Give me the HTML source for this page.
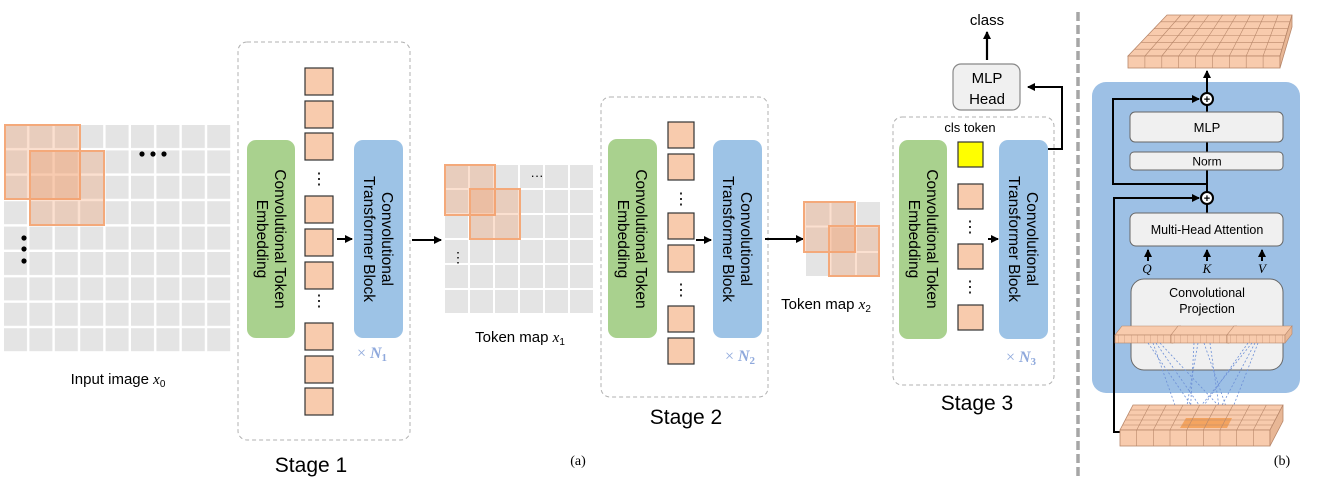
<!DOCTYPE html>
<html><head><meta charset="utf-8"><style>
html,body{margin:0;padding:0;background:#fff;}
svg{display:block;font-family:"Liberation Sans",sans-serif;}
</style></head><body>
<svg width="1324" height="493" viewBox="0 0 1324 493" xmlns="http://www.w3.org/2000/svg">
<defs>
<pattern id="g0" x="4" y="125" width="25.4" height="25.4" patternUnits="userSpaceOnUse"><rect width="23" height="23" fill="#e4e4e4"/></pattern>
<pattern id="g1" x="445" y="165" width="25" height="25" patternUnits="userSpaceOnUse"><rect width="23" height="23" fill="#e4e4e4"/></pattern>
<pattern id="g2" x="806" y="202" width="25.5" height="25.5" patternUnits="userSpaceOnUse"><rect width="23.5" height="23.5" fill="#e4e4e4"/></pattern>
<marker id="ah" markerWidth="8" markerHeight="8" refX="7" refY="4" orient="auto" markerUnits="userSpaceOnUse"><path d="M0,0 L8,4 L0,8 z" fill="#000"/></marker>
<pattern id="vs" x="0" y="0" width="6.5" height="20" patternUnits="userSpaceOnUse"><rect width="6.5" height="20" fill="#f8cbad"/><line x1="0" y1="0" x2="0" y2="20" stroke="#b8876a" stroke-width="0.6"/></pattern>
</defs>

<!-- Input image -->
<rect x="4" y="125" width="227" height="227" fill="url(#g0)"/>
<rect x="5" y="125" width="75" height="74" fill="rgba(244,160,110,0.32)" stroke="#f4a97a" stroke-width="2"/>
<rect x="30" y="151" width="74" height="74" fill="rgba(244,160,110,0.32)" stroke="#f4a97a" stroke-width="2"/>
<circle cx="142" cy="154" r="2.6"/><circle cx="153" cy="154" r="2.6"/><circle cx="164" cy="154" r="2.6"/>
<circle cx="24" cy="238" r="2.6"/><circle cx="24" cy="249" r="2.6"/><circle cx="24" cy="261" r="2.6"/>
<text x="118" y="384" font-size="15" text-anchor="middle">Input image <tspan font-family="Liberation Serif" font-style="italic">x</tspan><tspan font-size="10" dy="3">0</tspan></text>

<!-- Stage 1 -->
<rect x="238" y="42" width="172" height="398" rx="9" fill="none" stroke="#b0b0b0" stroke-dasharray="4,3"/>
<rect x="247" y="140" width="48" height="198" rx="9" fill="#a9d18e"/>
<text transform="translate(271,239) rotate(90)" font-size="15.5" text-anchor="middle"><tspan x="0" y="-4">Convolutional Token</tspan><tspan x="0" y="14">Embedding</tspan></text>
<g fill="#f8cbad" stroke="#333" stroke-width="1.2">
<rect x="305" y="68" width="28" height="27"/><rect x="305" y="101" width="28" height="27"/><rect x="305" y="133" width="28" height="27"/>
<rect x="305" y="196" width="28" height="27"/><rect x="305" y="229" width="28" height="27"/><rect x="305" y="262" width="28" height="27"/>
<rect x="305" y="323" width="28" height="27"/><rect x="305" y="356" width="28" height="27"/><rect x="305" y="388" width="28" height="27"/>
</g>
<text x="319" y="184" font-size="16" text-anchor="middle">⋮</text>
<text x="319" y="306" font-size="16" text-anchor="middle">⋮</text>
<line x1="337" y1="239" x2="352" y2="239" stroke="#000" stroke-width="2" marker-end="url(#ah)"/>
<rect x="354" y="140" width="49" height="198" rx="9" fill="#9dc3e6"/>
<text transform="translate(378,239) rotate(90)" font-size="15.5" text-anchor="middle"><tspan x="0" y="-4">Convolutional</tspan><tspan x="0" y="14">Transformer Block</tspan></text>
<text x="372" y="358" font-size="16" fill="#8fa9dc" font-family="Liberation Serif" text-anchor="middle">× <tspan font-weight="bold" font-style="italic">N</tspan><tspan font-size="11" font-weight="bold" dy="3">1</tspan></text>
<text x="311" y="472" font-size="21" text-anchor="middle">Stage 1</text>

<line x1="412" y1="240" x2="441" y2="240" stroke="#000" stroke-width="2" marker-end="url(#ah)"/>

<!-- Token map x1 -->
<rect x="445" y="165" width="148" height="148" fill="url(#g1)"/>
<rect x="445" y="165" width="50" height="50" fill="rgba(244,160,110,0.32)" stroke="#f4a97a" stroke-width="2"/>
<rect x="470" y="189" width="50" height="50" fill="rgba(244,160,110,0.32)" stroke="#f4a97a" stroke-width="2"/>
<text x="537" y="180" font-size="13" text-anchor="middle">···</text>
<text x="458" y="262" font-size="14" text-anchor="middle">⋮</text>
<text x="520" y="342" font-size="15" text-anchor="middle">Token map <tspan font-family="Liberation Serif" font-style="italic">x</tspan><tspan font-size="10" dy="3">1</tspan></text>

<!-- Stage 2 -->
<rect x="601" y="97" width="167" height="300" rx="9" fill="none" stroke="#b0b0b0" stroke-dasharray="4,3"/>
<rect x="608" y="139" width="49" height="199" rx="9" fill="#a9d18e"/>
<text transform="translate(632,239) rotate(90)" font-size="15.5" text-anchor="middle"><tspan x="0" y="-4">Convolutional Token</tspan><tspan x="0" y="14">Embedding</tspan></text>
<g fill="#f8cbad" stroke="#333" stroke-width="1.2">
<rect x="668" y="122" width="26" height="26"/><rect x="668" y="154" width="26" height="26"/>
<rect x="668" y="213" width="26" height="26"/><rect x="668" y="245" width="26" height="27"/>
<rect x="668" y="306" width="26" height="26"/><rect x="668" y="338" width="26" height="26"/>
</g>
<text x="681" y="204" font-size="16" text-anchor="middle">⋮</text>
<text x="681" y="295" font-size="16" text-anchor="middle">⋮</text>
<line x1="696" y1="240" x2="711" y2="240" stroke="#000" stroke-width="2" marker-end="url(#ah)"/>
<rect x="713" y="140" width="49" height="198" rx="9" fill="#9dc3e6"/>
<text transform="translate(737,239) rotate(90)" font-size="15.5" text-anchor="middle"><tspan x="0" y="-4">Convolutional</tspan><tspan x="0" y="14">Transformer Block</tspan></text>
<text x="740" y="361" font-size="16" fill="#8fa9dc" font-family="Liberation Serif" text-anchor="middle">× <tspan font-weight="bold" font-style="italic">N</tspan><tspan font-size="11" font-weight="bold" dy="3">2</tspan></text>
<text x="686" y="424" font-size="21" text-anchor="middle">Stage 2</text>

<line x1="765" y1="239" x2="803" y2="239" stroke="#000" stroke-width="2" marker-end="url(#ah)"/>

<!-- Token map x2 -->
<rect x="806" y="202" width="74" height="74" fill="url(#g2)"/>
<rect x="804" y="202" width="51" height="50" fill="rgba(244,160,110,0.32)" stroke="#f4a97a" stroke-width="2"/>
<rect x="829" y="226" width="50" height="50" fill="rgba(244,160,110,0.32)" stroke="#f4a97a" stroke-width="2"/>
<text x="826" y="309" font-size="15" text-anchor="middle">Token map <tspan font-family="Liberation Serif" font-style="italic">x</tspan><tspan font-size="10" dy="3">2</tspan></text>

<!-- Stage 3 -->
<rect x="893" y="117" width="161" height="268" rx="9" fill="none" stroke="#b0b0b0" stroke-dasharray="4,3"/>
<text x="970" y="132" font-size="13" text-anchor="middle">cls token</text>
<rect x="899" y="140" width="48" height="199" rx="9" fill="#a9d18e"/>
<text transform="translate(923,239) rotate(90)" font-size="15.5" text-anchor="middle"><tspan x="0" y="-4">Convolutional Token</tspan><tspan x="0" y="14">Embedding</tspan></text>
<rect x="958" y="142" width="25" height="25" fill="#ffff00" stroke="#333" stroke-width="1.2"/>
<g fill="#f8cbad" stroke="#333" stroke-width="1.2">
<rect x="958" y="184" width="25" height="25"/><rect x="958" y="244" width="25" height="25"/><rect x="958" y="305" width="25" height="25"/>
</g>
<text x="970" y="232" font-size="16" text-anchor="middle">⋮</text>
<text x="970" y="292" font-size="16" text-anchor="middle">⋮</text>
<line x1="988" y1="239" x2="998" y2="239" stroke="#000" stroke-width="2" marker-end="url(#ah)"/>
<rect x="999" y="140" width="49" height="199" rx="9" fill="#9dc3e6"/>
<text transform="translate(1023,239) rotate(90)" font-size="15.5" text-anchor="middle"><tspan x="0" y="-4">Convolutional</tspan><tspan x="0" y="14">Transformer Block</tspan></text>
<text x="1021" y="362" font-size="16" fill="#8fa9dc" font-family="Liberation Serif" text-anchor="middle">× <tspan font-weight="bold" font-style="italic">N</tspan><tspan font-size="11" font-weight="bold" dy="3">3</tspan></text>
<text x="977" y="410" font-size="21" text-anchor="middle">Stage 3</text>

<!-- MLP Head -->
<rect x="953" y="64" width="67" height="46" rx="8" fill="#f0f0f0" stroke="#888" stroke-width="1.2"/>
<text x="987" y="83" font-size="15" text-anchor="middle">MLP</text>
<text x="987" y="104" font-size="15" text-anchor="middle">Head</text>
<polyline points="1048,149 1062,149 1062,87 1028,87" fill="none" stroke="#000" stroke-width="2" marker-end="url(#ah)"/>
<line x1="987" y1="60" x2="987" y2="32" stroke="#000" stroke-width="2.2" marker-end="url(#ah)"/>
<text x="987" y="25" font-size="15" text-anchor="middle">class</text>

<text x="578" y="465" font-size="14" font-family="Liberation Serif" text-anchor="middle">(a)</text>

<line x1="1078" y1="12" x2="1078" y2="480" stroke="#a6a6a6" stroke-width="3.5" stroke-dasharray="9,4"/>

<!-- Panel b -->
<polygon points="1167,15 1292,15 1280,56 1128,56" fill="#f8cbad" stroke="#b8876a" stroke-width="0.8"/>
<g stroke="#b8876a" stroke-width="0.6">
<line x1="1144.9" y1="56" x2="1180.9" y2="15"/><line x1="1161.8" y1="56" x2="1194.8" y2="15"/><line x1="1178.7" y1="56" x2="1208.7" y2="15"/><line x1="1195.6" y1="56" x2="1222.6" y2="15"/><line x1="1212.4" y1="56" x2="1236.4" y2="15"/><line x1="1229.3" y1="56" x2="1250.3" y2="15"/><line x1="1246.2" y1="56" x2="1264.2" y2="15"/><line x1="1263.1" y1="56" x2="1278.1" y2="15"/>
<line x1="1160.5" y1="21.8" x2="1290" y2="21.8"/><line x1="1154" y1="28.7" x2="1288" y2="28.7"/><line x1="1147.5" y1="35.5" x2="1286" y2="35.5"/><line x1="1141" y1="42.3" x2="1284" y2="42.3"/><line x1="1134.5" y1="49.2" x2="1282" y2="49.2"/>
</g>
<rect x="1128" y="56" width="152" height="12" fill="#f8cbad" stroke="#b8876a" stroke-width="0.8"/>
<g stroke="#b8876a" stroke-width="0.6"><line x1="1144.9" y1="56" x2="1144.9" y2="68"/><line x1="1161.8" y1="56" x2="1161.8" y2="68"/><line x1="1178.7" y1="56" x2="1178.7" y2="68"/><line x1="1195.6" y1="56" x2="1195.6" y2="68"/><line x1="1212.4" y1="56" x2="1212.4" y2="68"/><line x1="1229.3" y1="56" x2="1229.3" y2="68"/><line x1="1246.2" y1="56" x2="1246.2" y2="68"/><line x1="1263.1" y1="56" x2="1263.1" y2="68"/></g>
<polygon points="1280,56 1292,15 1292,27 1280,68" fill="#e8b796" stroke="#b8876a" stroke-width="0.8"/>

<rect x="1092" y="82" width="208" height="311" rx="14" fill="#9dc0e5"/>
<line x1="1207" y1="93" x2="1207" y2="71" stroke="#000" stroke-width="2" marker-end="url(#ah)"/>
<line x1="1207" y1="105" x2="1207" y2="192" stroke="#000" stroke-width="2"/>
<line x1="1207" y1="204" x2="1207" y2="213" stroke="#000" stroke-width="2"/>
<polyline points="1207,184 1113,184 1113,99 1199,99" fill="none" stroke="#000" stroke-width="2" marker-end="url(#ah)"/>
<polyline points="1133,432 1114,432 1114,198 1199,198" fill="none" stroke="#000" stroke-width="2" marker-end="url(#ah)"/>
<circle cx="1207" cy="99" r="6" fill="#fff" stroke="#000" stroke-width="2"/>
<text x="1207" y="103" font-size="11" text-anchor="middle" font-weight="bold">+</text>
<circle cx="1207" cy="198" r="6" fill="#fff" stroke="#000" stroke-width="2"/>
<text x="1207" y="202" font-size="11" text-anchor="middle" font-weight="bold">+</text>
<rect x="1130" y="112" width="153" height="30" rx="5" fill="#f0f0f0" stroke="#666" stroke-width="1"/>
<text x="1207" y="132" font-size="13" text-anchor="middle">MLP</text>
<rect x="1130" y="152" width="153" height="18" rx="4" fill="#f0f0f0" stroke="#666" stroke-width="1"/>
<text x="1207" y="165.5" font-size="12" text-anchor="middle">Norm</text>
<rect x="1130" y="213" width="153" height="33" rx="6" fill="#f0f0f0" stroke="#666" stroke-width="1"/>
<text x="1207" y="234" font-size="12.5" text-anchor="middle">Multi-Head Attention</text>
<g stroke="#000" stroke-width="2"><line x1="1148" y1="261" x2="1148" y2="250" marker-end="url(#ah)"/><line x1="1207" y1="261" x2="1207" y2="250" marker-end="url(#ah)"/><line x1="1262" y1="261" x2="1262" y2="250" marker-end="url(#ah)"/></g>
<g font-family="Liberation Serif" font-style="italic" font-size="13" text-anchor="middle"><text x="1147" y="273">Q</text><text x="1207" y="273">K</text><text x="1262" y="273">V</text></g>
<rect x="1131" y="279" width="152" height="91" rx="13" fill="#f0f0f0" stroke="#666" stroke-width="1"/>
<text x="1207" y="297" font-size="12.5" text-anchor="middle">Convolutional</text>
<text x="1207" y="313" font-size="12.5" text-anchor="middle">Projection</text>
<g id="ss">
<polygon points="1122,326 1180,326 1173,335 1115,335" fill="#f8cbad" stroke="#b8876a" stroke-width="0.6"/>
<rect x="1115" y="335" width="58" height="8" fill="url(#vs)" stroke="#b8876a" stroke-width="0.6"/>
<polygon points="1173,335 1180,326 1180,334 1173,343" fill="#e8b796" stroke="#b8876a" stroke-width="0.6"/>
</g>
<use href="#ss" x="56"/><use href="#ss" x="112"/>
<g stroke="#6c8fd6" stroke-width="0.8" stroke-dasharray="2,2">
<line x1="1153" y1="343" x2="1183" y2="428"/><line x1="1160" y1="343" x2="1230" y2="418"/><line x1="1148" y1="343" x2="1200" y2="418"/><line x1="1156" y1="343" x2="1215" y2="428"/>
<line x1="1198" y1="343" x2="1183" y2="428"/><line x1="1204" y1="343" x2="1230" y2="418"/><line x1="1194" y1="343" x2="1190" y2="418"/><line x1="1210" y1="343" x2="1222" y2="428"/>
<line x1="1252" y1="343" x2="1183" y2="428"/><line x1="1258" y1="343" x2="1228" y2="420"/><line x1="1248" y1="343" x2="1195" y2="418"/><line x1="1255" y1="343" x2="1210" y2="428"/>
</g>
<polygon points="1133,405 1283,405 1270,430 1120,430" fill="#f8cbad" stroke="#b8876a" stroke-width="0.8"/>
<polygon points="1186,418 1232,418 1227,428 1180,428" fill="#f4a460"/>
<g stroke="#b8876a" stroke-width="0.6">
<line x1="1136.7" y1="430" x2="1149.7" y2="405"/><line x1="1153.3" y1="430" x2="1166.3" y2="405"/><line x1="1170" y1="430" x2="1183" y2="405"/><line x1="1186.7" y1="430" x2="1199.7" y2="405"/><line x1="1203.3" y1="430" x2="1216.3" y2="405"/><line x1="1220" y1="430" x2="1233" y2="405"/><line x1="1236.7" y1="430" x2="1249.7" y2="405"/><line x1="1253.3" y1="430" x2="1266.3" y2="405"/>
<line x1="1130.4" y1="410" x2="1280.4" y2="410"/><line x1="1127.8" y1="415" x2="1277.8" y2="415"/><line x1="1125.2" y1="420" x2="1275.2" y2="420"/><line x1="1122.6" y1="425" x2="1272.6" y2="425"/>
</g>
<rect x="1120" y="430" width="150" height="16" fill="#f8cbad" stroke="#b8876a" stroke-width="0.8"/>
<g stroke="#b8876a" stroke-width="0.6"><line x1="1136.7" y1="430" x2="1136.7" y2="446"/><line x1="1153.3" y1="430" x2="1153.3" y2="446"/><line x1="1170" y1="430" x2="1170" y2="446"/><line x1="1186.7" y1="430" x2="1186.7" y2="446"/><line x1="1203.3" y1="430" x2="1203.3" y2="446"/><line x1="1220" y1="430" x2="1220" y2="446"/><line x1="1236.7" y1="430" x2="1236.7" y2="446"/><line x1="1253.3" y1="430" x2="1253.3" y2="446"/></g>
<polygon points="1270,430 1283,405 1283,421 1270,446" fill="#e8b796" stroke="#b8876a" stroke-width="0.8"/>

<text x="1282" y="465" font-size="14" font-family="Liberation Serif" text-anchor="middle">(b)</text>
</svg>
</body></html>
